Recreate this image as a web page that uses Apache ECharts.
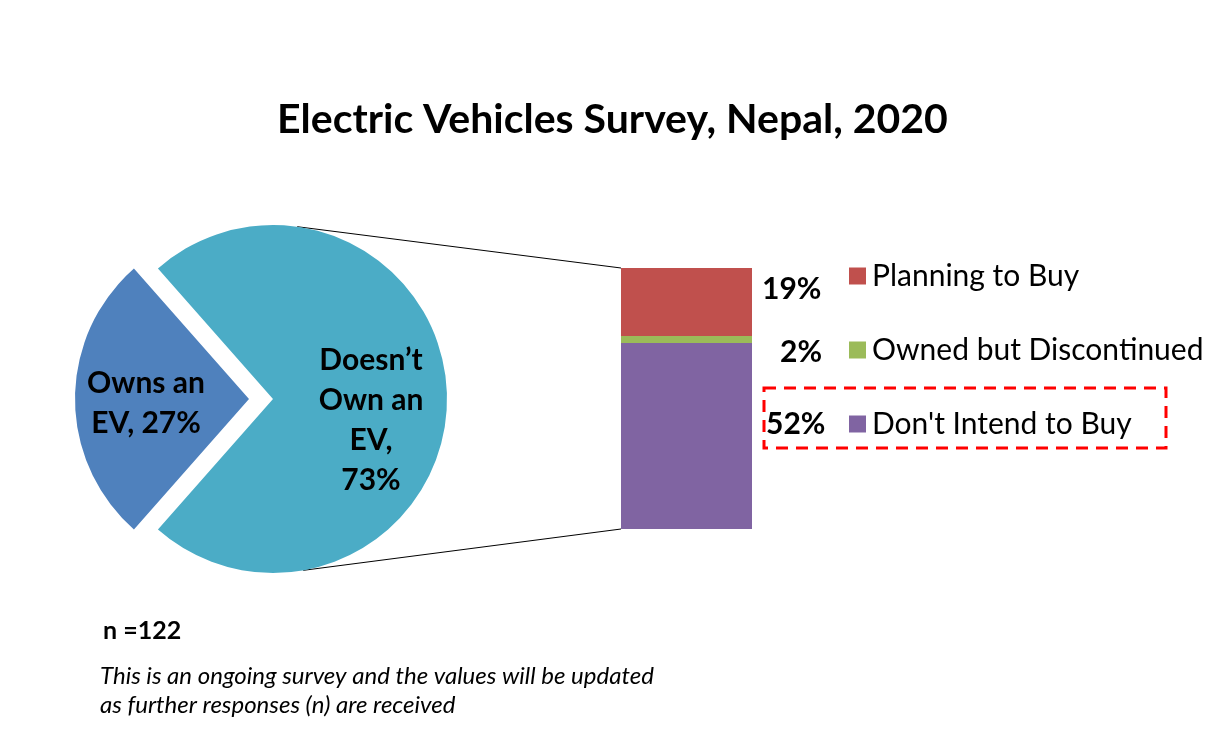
<!DOCTYPE html>
<html style="height: 100%">

<head>
  <meta charset="utf-8">
</head>

<body style="height: 100%; margin: 0; background: #fff">
  <div id="container" style="width: 1225px; height: 738px"></div>
  <script type="text/javascript" src="https://cdn.jsdelivr.net/npm/echarts@6/dist/echarts.min.js"></script>
  <script type="text/javascript">
    // 饼图数据：是否拥有电动车
    var pieNames = ['Owns an EV', 'Doesn\u2019t Own an EV'];
    var pieLabels = ['Owns an\nEV, 27%', 'Doesn\u2019t\nOwn an\nEV,\n73%'];
    var pieValues = [27, 73];

    // 柱状图数据：不拥有电动车的细分
    var barNames = ['Planning to Buy', 'Owned but Discontinued', 'Don\'t Intend to Buy'];
    var barValues = [19, 2, 52];

    var barColors = ['#C0504D', '#9BBB59', '#8064A2'];
    var pieColors = ['#4F81BD', '#4BACC6'];

    var font = 'Lato';
    var pieCenter = [273, 399];
    var pieRadius = 174;
    var barBox = { left: 621, top: 268, width: 131, height: 261 };

    // 饼图与柱状图之间的连接线
    function edgePoint(deg) {
      var a = deg * Math.PI / 180;
      return [pieCenter[0] + pieRadius * Math.cos(a), pieCenter[1] - pieRadius * Math.sin(a)];
    }
    var pTop = edgePoint(82);
    var pBottom = edgePoint(-80);

    var dom = document.getElementById("container");
    var myChart = echarts.init(dom);

    // 标签离柱子的距离与上下偏移（对齐图例）
    var labelDist = [10, 28, 14];
    var labelDy = [-13, 13, -12];

    var barSeries = [];
    for (var i = barNames.length - 1; i >= 0; i--) {
      barSeries.push({
        name: barNames[i],
        type: 'bar',
        stack: 'non',
        barWidth: '100%',
        silent: true,
        itemStyle: { color: barColors[i] },
        label: {
          show: true,
          position: 'right',
          distance: labelDist[i],
          offset: [0, labelDy[i]],
          formatter: '{c}%',
          fontFamily: font,
          fontWeight: 'bold',
          fontSize: 30,
          color: '#000'
        },
        data: [barValues[i]]
      });
    }

    var pieOffsets = [[-13, 4], [8, 21]];

    var option = {
      animation: false,
      title: {
        text: 'Electric Vehicles Survey, Nepal, 2020',
        left: 'center',
        top: 94,
        textStyle: { fontFamily: font, fontWeight: 'bold', fontSize: 41, color: '#000' }
      },
      legend: {
        orient: 'vertical',
        left: 844,
        top: 256,
        itemWidth: 17,
        itemHeight: 17,
        itemGap: 44,
        selectedMode: false,
        data: barNames,
        icon: 'rect',
        textStyle: { fontFamily: font, fontSize: 30, color: '#000', padding: [0, 0, 0, 1] }
      },
      grid: {
        left: barBox.left,
        top: barBox.top,
        width: barBox.width,
        height: barBox.height
      },
      xAxis: { type: 'category', data: ['EV non-owners'], show: false },
      yAxis: { type: 'value', min: 0, max: 73, show: false },
      series: [{
        type: 'pie',
        center: pieCenter,
        radius: pieRadius,
        startAngle: 180 + 27 * 3.6 / 2,
        selectedMode: 'single',
        selectedOffset: 24,
        silent: true,
        label: {
          show: true,
          position: 'inside',
          fontFamily: font,
          fontWeight: 'bold',
          fontSize: 30,
          lineHeight: 40,
          color: '#000',
          formatter: function (p) { return pieLabels[p.dataIndex]; }
        },
        labelLayout: function (p) {
          return { dx: pieOffsets[p.dataIndex][0], dy: pieOffsets[p.dataIndex][1] };
        },
        data: pieValues.map(function (v, i) {
          return { name: pieNames[i], value: v, selected: i === 0, itemStyle: { color: pieColors[i] } };
        })
      }].concat(barSeries),
      graphic: [
        { type: 'line', shape: { x1: pTop[0], y1: pTop[1], x2: barBox.left, y2: barBox.top }, style: { stroke: '#000', lineWidth: 1 }, z: -1 },
        { type: 'line', shape: { x1: pBottom[0], y1: pBottom[1], x2: barBox.left, y2: barBox.top + barBox.height }, style: { stroke: '#000', lineWidth: 1 }, z: -1 },
        { type: 'rect', shape: { x: 764, y: 388, width: 402, height: 60 }, style: { fill: 'none', stroke: '#FF0000', lineWidth: 3, lineDash: [12, 8] } },
        { type: 'text', left: 103, top: 618, style: { text: 'n =122', font: 'bold 25px Lato', fill: '#000' } },
        { type: 'text', left: 100, top: 662, style: { text: 'This is an ongoing survey and the values will be updated\nas further responses (n) are received', font: 'italic 24px Lato', lineHeight: 29, fill: '#000' } }
      ]
    };
    myChart.setOption(option);
  </script>
</body>

</html>
